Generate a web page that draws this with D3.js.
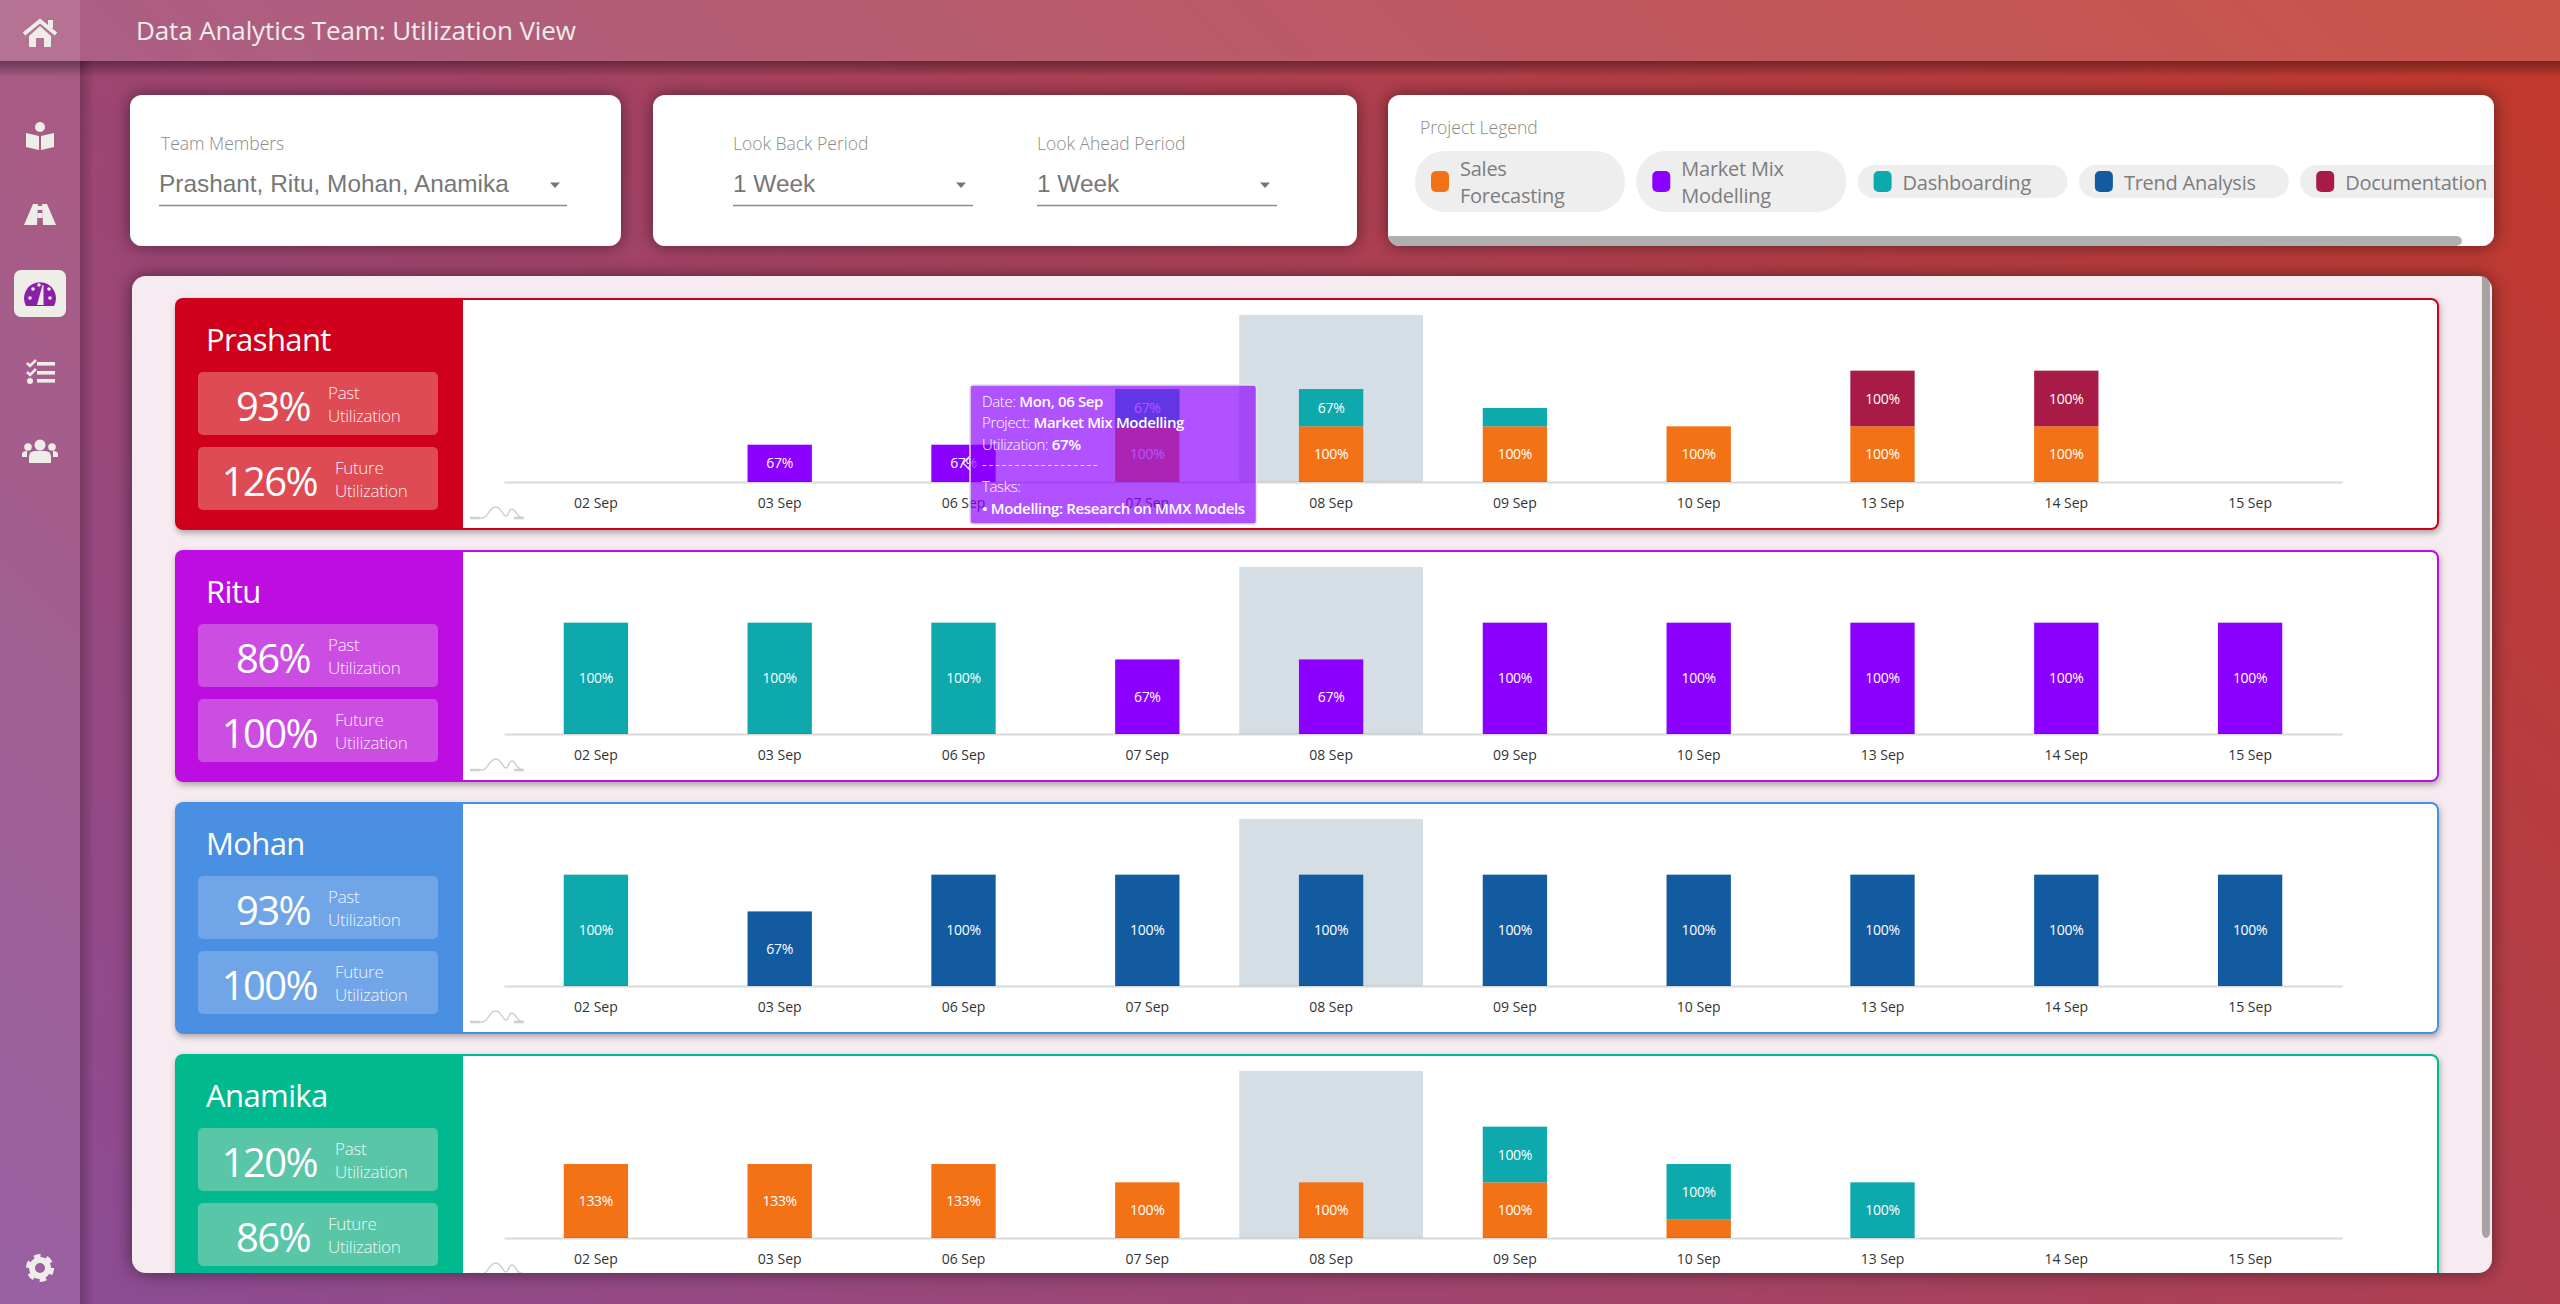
<!DOCTYPE html>
<html>
<head>
<meta charset="utf-8">
<title>Data Analytics Team: Utilization View</title>
<script src="https://cdnjs.cloudflare.com/ajax/libs/d3/7.8.5/d3.min.js"></script>
<style>
html, body { margin: 0; padding: 0; overflow: hidden; background: #a0457f; }
svg { display: block; font-family: "Open Sans", "Noto Sans", sans-serif; }
</style>
</head>
<body>
<svg id="page" width="2560" height="1304"></svg>
<script>
var dates = ["02 Sep", "03 Sep", "06 Sep", "07 Sep", "08 Sep", "09 Sep", "10 Sep", "13 Sep", "14 Sep", "15 Sep"];
var today = "08 Sep";
var projectKeys = ["sales", "market", "dashboard", "trend", "documentation"];
var projectNames = [["Sales", "Forecasting"], ["Market Mix", "Modelling"], ["Dashboarding"], ["Trend Analysis"], ["Documentation"]];
var members = ["Prashant", "Ritu", "Mohan", "Anamika"];
var pastUtil = ["93%", "86%", "93%", "120%"];
var futureUtil = ["126%", "100%", "100%", "86%"];

// one array per project, one value per date
var prashantSales = [0, 0, 0, 100, 100, 100, 100, 100, 100, 0];
var prashantMarket = [0, 67, 67, 0, 0, 0, 0, 0, 0, 0];
var prashantDash = [0, 0, 0, 67, 67, 33, 0, 0, 0, 0];
var prashantTrend = [0, 0, 0, 0, 0, 0, 0, 0, 0, 0];
var prashantDoc = [0, 0, 0, 0, 0, 0, 0, 100, 100, 0];

var rituSales = [0, 0, 0, 0, 0, 0, 0, 0, 0, 0];
var rituMarket = [0, 0, 0, 67, 67, 100, 100, 100, 100, 100];
var rituDash = [100, 100, 100, 0, 0, 0, 0, 0, 0, 0];
var rituTrend = [0, 0, 0, 0, 0, 0, 0, 0, 0, 0];
var rituDoc = [0, 0, 0, 0, 0, 0, 0, 0, 0, 0];

var mohanSales = [0, 0, 0, 0, 0, 0, 0, 0, 0, 0];
var mohanMarket = [0, 0, 0, 0, 0, 0, 0, 0, 0, 0];
var mohanDash = [100, 0, 0, 0, 0, 0, 0, 0, 0, 0];
var mohanTrend = [0, 67, 100, 100, 100, 100, 100, 100, 100, 100];
var mohanDoc = [0, 0, 0, 0, 0, 0, 0, 0, 0, 0];

var anamikaSales = [133, 133, 133, 100, 100, 100, 33, 0, 0, 0];
var anamikaMarket = [0, 0, 0, 0, 0, 0, 0, 0, 0, 0];
var anamikaDash = [0, 0, 0, 0, 0, 100, 100, 100, 0, 0];
var anamikaTrend = [0, 0, 0, 0, 0, 0, 0, 0, 0, 0];
var anamikaDoc = [0, 0, 0, 0, 0, 0, 0, 0, 0, 0];

var utilByMember = [
    [prashantSales, prashantMarket, prashantDash, prashantTrend, prashantDoc],
    [rituSales, rituMarket, rituDash, rituTrend, rituDoc],
    [mohanSales, mohanMarket, mohanDash, mohanTrend, mohanDoc],
    [anamikaSales, anamikaMarket, anamikaDash, anamikaTrend, anamikaDoc]
];

var projectColors = ["#f37216", "#8b00ff", "#0da9ac", "#135ba1", "#a91b47"];
var memberColors = ["#d0021b", "#bd10e0", "#4a90e2", "#00b98e"];
var statBoxColors = ["#de4b54", "#cc4de2", "#70a5e7", "#5ac6a8"];

var svg = d3.select("#page");
var defs = svg.append("defs");

// page background runs corner to corner at 45deg
var grad = defs.append("linearGradient")
    .attr("id", "bg")
    .attr("gradientUnits", "userSpaceOnUse")
    .attr("x1", 0).attr("y1", 1304)
    .attr("x2", 1932).attr("y2", -628);
grad.append("stop").attr("offset", "0%").attr("stop-color", "#8b4c96");
grad.append("stop").attr("offset", "100%").attr("stop-color", "#c3382a");

var shadow = defs.append("filter").attr("id", "shadow")
    .attr("x", "-10%").attr("y", "-30%").attr("width", "120%").attr("height", "160%");
shadow.append("feDropShadow").attr("dx", 0).attr("dy", 0)
    .attr("stdDeviation", 9).attr("flood-color", "#000").attr("flood-opacity", 0.5);

var smallShadow = defs.append("filter").attr("id", "smallShadow")
    .attr("x", "-5%").attr("y", "-10%").attr("width", "110%").attr("height", "120%");
smallShadow.append("feDropShadow").attr("dx", 1).attr("dy", 3)
    .attr("stdDeviation", 3).attr("flood-color", "#000").attr("flood-opacity", 0.3);

defs.append("clipPath").attr("id", "panelClip").append("rect")
    .attr("x", 132).attr("y", 276).attr("width", 2360).attr("height", 997).attr("rx", 14);
defs.append("clipPath").attr("id", "legendClip").append("rect")
    .attr("x", 1388).attr("y", 95).attr("width", 1106).attr("height", 151).attr("rx", 12);

svg.append("rect").attr("width", 2560).attr("height", 1304).attr("fill", "url(#bg)");

// sidebar and header
svg.append("rect").attr("x", 0).attr("y", 0).attr("width", 80).attr("height", 1304)
    .attr("fill", "#fff").attr("fill-opacity", 0.12);
var sideEdge = defs.append("linearGradient").attr("id", "sideEdge");
sideEdge.append("stop").attr("offset", "0%").attr("stop-color", "#000").attr("stop-opacity", 0.22);
sideEdge.append("stop").attr("offset", "100%").attr("stop-color", "#000").attr("stop-opacity", 0);
svg.append("rect").attr("x", 80).attr("y", 61).attr("width", 14).attr("height", 1243).attr("fill", "url(#sideEdge)");

var topEdge = defs.append("linearGradient").attr("id", "topEdge").attr("x2", 0).attr("y2", 1);
topEdge.append("stop").attr("offset", "0%").attr("stop-color", "#000").attr("stop-opacity", 0.38);
topEdge.append("stop").attr("offset", "100%").attr("stop-color", "#000").attr("stop-opacity", 0);
svg.append("rect").attr("x", 0).attr("y", 61).attr("width", 2560).attr("height", 16).attr("fill", "url(#topEdge)");

svg.append("rect").attr("x", 0).attr("y", 0).attr("width", 2560).attr("height", 61)
    .attr("fill", "#fff").attr("fill-opacity", 0.14);

svg.append("text")
    .attr("x", 136).attr("y", 40)
    .attr("fill", "#f1ecec")
    .style("font-size", "26px")
    .style("letter-spacing", "-0.12px")
    .text("Data Analytics Team: Utilization View");

// sidebar icons
var iconColor = "#eeede8";

var home = svg.append("g").attr("transform", "translate(40,33)");
home.append("path").attr("d", "M-16,1 L0,-12 L16,1").attr("fill", "none").attr("stroke", iconColor).attr("stroke-width", 4);
home.append("path").attr("d", "M-11,3 L0,-7 L11,3 V14 H4 V5 H-4 V14 H-11 Z").attr("fill", iconColor);
home.append("rect").attr("x", 8).attr("y", -13).attr("width", 5).attr("height", 8).attr("fill", iconColor);

var book = svg.append("g").attr("transform", "translate(40,136)");
book.append("circle").attr("cy", -9).attr("r", 5).attr("fill", iconColor);
book.append("path").attr("d", "M-14,-3 L-1,0 V14 L-14,11 Z M14,-3 L1,0 V14 L14,11 Z").attr("fill", iconColor);

var road = svg.append("g").attr("transform", "translate(40,215)");
road.append("path").attr("d", "M-16,10 L-7,-11 L-2,-11 L-3,10 Z M16,10 L7,-11 L2,-11 L3,10 Z").attr("fill", iconColor);
road.append("path").attr("d", "M-2.4,-9 H2.4 V-5 H-2.4 Z M-2.7,-2 H2.7 V3 H-2.7 Z").attr("fill", iconColor);

svg.append("rect").attr("x", 14).attr("y", 270).attr("width", 52).attr("height", 47).attr("rx", 7).attr("fill", iconColor);
var gauge = svg.append("g").attr("transform", "translate(40,294)");
gauge.append("path").attr("d", "M-14,12 A16,16 0 1 1 14,12 Z").attr("fill", "#8a1fa8");
gauge.append("path").attr("d", "M-3,11 L2.5,-9 L3.5,-9 L3.5,11 Z").attr("fill", iconColor);
[[-10, 4], [-7, -5], [-1, -9], [10, 4], [9, -5]].forEach(function(p) {
    gauge.append("circle").attr("cx", p[0]).attr("cy", p[1]).attr("r", 1.8).attr("fill", iconColor);
});

var tasks = svg.append("g").attr("transform", "translate(40,372)");
[-9, 0].forEach(function(y) {
    tasks.append("path").attr("d", "M-13," + (y) + " l3,3 l6,-6").attr("fill", "none").attr("stroke", iconColor).attr("stroke-width", 2.6);
});
tasks.append("circle").attr("cx", -10).attr("cy", 9).attr("r", 3).attr("fill", iconColor);
[-8, 1, 9].forEach(function(y) {
    tasks.append("rect").attr("x", -3).attr("y", y - 2).attr("width", 18).attr("height", 3.6).attr("fill", iconColor);
});

var users = svg.append("g").attr("transform", "translate(40,451)");
users.append("circle").attr("cy", -6).attr("r", 5.5).attr("fill", iconColor);
users.append("path").attr("d", "M-11,12 V6 Q-11,0 -5,0 H5 Q11,0 11,6 V12 Z").attr("fill", iconColor);
[-1, 1].forEach(function(s) {
    users.append("circle").attr("cx", s * 12).attr("cy", -4).attr("r", 3.8).attr("fill", iconColor);
    users.append("path").attr("d", "M" + (s * 18) + ",6 V3 Q" + (s * 18) + ",-0 " + (s * 13) + ",0 L" + (s * 13) + ",6 Z").attr("fill", iconColor);
});

var gear = svg.append("g").attr("transform", "translate(40,1268)");
gear.append("circle").attr("r", 8).attr("fill", "none").attr("stroke", iconColor).attr("stroke-width", 6);
gear.append("circle").attr("r", 12).attr("fill", "none").attr("stroke", iconColor).attr("stroke-width", 4)
    .attr("stroke-dasharray", "6.5 6.06");

// top filter cards
function card(x, y, w, h) {
    svg.append("rect")
        .attr("x", x).attr("y", y).attr("width", w).attr("height", h)
        .attr("rx", 12).attr("fill", "#fff").attr("filter", "url(#shadow)");
}

function dropdown(label, labelX, value, x, w) {
    svg.append("text")
        .attr("x", labelX).attr("y", 150)
        .attr("fill", "#8a8a8a")
        .style("font-size", "17.5px").style("font-weight", 300)
        .text(label);
    svg.append("text")
        .attr("x", x).attr("y", 192)
        .attr("fill", "#777")
        .style("font-family", "'Liberation Sans', Arial, sans-serif")
        .style("font-size", "24.4px")
        .text(value);
    svg.append("line")
        .attr("x1", x).attr("x2", x + w)
        .attr("y1", 205.5).attr("y2", 205.5)
        .attr("stroke", "#8c8c8c").attr("stroke-width", 1.5);
    svg.append("path")
        .attr("d", "M" + (x + w - 17) + ",182.5 h10 l-5,5.5 Z")
        .attr("fill", "#757575");
}

card(130, 95, 491, 151);
dropdown("Team Members", 161, "Prashant, Ritu, Mohan, Anamika", 159, 408);
card(653, 95, 704, 151);
dropdown("Look Back Period", 733, "1 Week", 733, 240);
dropdown("Look Ahead Period", 1037, "1 Week", 1037, 240);
card(1388, 95, 1106, 151);

svg.append("text")
    .attr("x", 1420).attr("y", 134)
    .attr("fill", "#8a8a8a")
    .style("font-size", "17.5px").style("font-weight", 300)
    .text("Project Legend");

var legendG = svg.append("g").attr("clip-path", "url(#legendClip)");
var chip = legendG.selectAll(".chip")
    .data(projectKeys)
    .enter()
    .append("g")
    .attr("class", "chip")
    .attr("transform", (d, i) => "translate(" + (1415 + i * 221.3) + ",0)");
chip.append("rect")
    .attr("y", (d, i) => projectNames[i].length > 1 ? 151 : 165)
    .attr("width", 210)
    .attr("height", (d, i) => projectNames[i].length > 1 ? 61 : 33)
    .attr("rx", (d, i) => projectNames[i].length > 1 ? 30 : 16.5)
    .attr("fill", "#eeeeee");
chip.append("rect")
    .attr("x", 16).attr("y", 171)
    .attr("width", 18).attr("height", 21)
    .attr("rx", 5)
    .attr("fill", (d, i) => projectColors[i]);
chip.each(function(d, i) {
    var lines = projectNames[i];
    d3.select(this).selectAll("text")
        .data(lines)
        .enter()
        .append("text")
        .attr("x", 45)
        .attr("y", (t, j) => lines.length > 1 ? 176 + j * 27 : 190)
        .attr("fill", "#7d7d7d")
        .style("font-size", "20px")
        .style("letter-spacing", "-0.25px")
        .text(t => t);
});
svg.append("path")
    .attr("d", "M1388,236 H2456 a6,5 0 0 1 6,5 a6,5 0 0 1 -6,5 H1400 a12,12 0 0 1 -12,-10 Z")
    .attr("fill", "#b0b0b0");

// main panel with one row per team member
svg.append("rect")
    .attr("x", 132).attr("y", 276).attr("width", 2360).attr("height", 997)
    .attr("rx", 14).attr("fill", "#f5ebf0").attr("filter", "url(#shadow)");

var panel = svg.append("g").attr("clip-path", "url(#panelClip)");

var x = d3.scaleBand()
    .domain(dates)
    .range([504, 2342])
    .paddingInner(0.65)
    .paddingOuter(0.325);

// the shaded band for today fills the whole step, not just the bar
var step = x.step();

var rowTops = d3.scaleLinear().domain([0, 3]).range([298, 1054]);

members.forEach(function(name, m) {
    var rowColor = memberColors[m];
    var g = panel.append("g").attr("transform", "translate(0," + rowTops(m) + ")");

    g.append("rect")
        .attr("x", 175).attr("y", 0).attr("width", 2264).attr("height", 232)
        .attr("rx", 8).attr("fill", rowColor).attr("filter", "url(#smallShadow)");
    g.append("path")
        .attr("d", "M463,2 H2431 a6,6 0 0 1 6,6 V224 a6,6 0 0 1 -6,6 H463 Z")
        .attr("fill", "#fff");

    g.append("text")
        .attr("x", 206).attr("y", 53)
        .attr("fill", "#fff")
        .style("font-size", "31px")
        .style("letter-spacing", "-0.6px")
        .text(name);

    [[pastUtil[m], "Past", 74], [futureUtil[m], "Future", 149]].forEach(function(s) {
        var box = g.append("g").attr("transform", "translate(198," + s[2] + ")");
        box.append("rect")
            .attr("width", 240).attr("height", 63).attr("rx", 5)
            .attr("fill", statBoxColors[m]);
        var wide = s[0].length > 3;
        box.append("text")
            .attr("x", wide ? 119 : 112).attr("y", 48.5)
            .attr("text-anchor", "end")
            .attr("fill", "#fff")
            .style("font-size", "40px")
            .style("letter-spacing", "-1.6px")
            .text(s[0]);
        box.append("text")
            .attr("x", wide ? 137 : 130).attr("y", 27)
            .attr("fill", "#fff").attr("fill-opacity", 0.92)
            .style("font-size", "17px").style("font-weight", 300)
            .style("letter-spacing", "-0.3px")
            .text(s[1]);
        box.append("text")
            .attr("x", wide ? 137 : 130).attr("y", 50)
            .attr("fill", "#fff").attr("fill-opacity", 0.92)
            .style("font-size", "17px").style("font-weight", 300)
            .style("letter-spacing", "-0.3px")
            .text("Utilization");
    });

    var table = dates.map(function(d, i) {
        var row = { date: d };
        projectKeys.forEach(function(k, p) { row[k] = utilByMember[m][p][i]; });
        return row;
    });
    var layers = d3.stack().keys(projectKeys)(table);

    // each row scales to its own tallest stack plus half again as headroom
    var top = d3.max(layers, layer => d3.max(layer, d => d[1]));
    var y = d3.scaleLinear().domain([0, top * 1.5]).range([184, 17]);

    g.append("rect")
        .attr("x", x(today) - step * 0.325)
        .attr("y", y(top * 1.5))
        .attr("width", step)
        .attr("height", y(0) - y(top * 1.5))
        .attr("fill", "#d6dee5");

    layers.forEach(function(layer, p) {
        var bars = layer.filter(d => d[1] > d[0]);
        g.selectAll(".bar" + p)
            .data(bars)
            .enter()
            .append("rect")
            .attr("class", "bar" + p)
            .attr("x", d => x(d.data.date))
            .attr("y", d => y(d[1]))
            .attr("width", x.bandwidth())
            .attr("height", d => y(d[0]) - y(d[1]))
            .attr("fill", projectColors[p]);
        g.selectAll(".label" + p)
            .data(bars.filter(d => d[1] - d[0] >= 50))
            .enter()
            .append("text")
            .attr("class", "label" + p)
            .attr("x", d => x(d.data.date) + x.bandwidth() / 2)
            .attr("y", d => (y(d[0]) + y(d[1])) / 2 + 5)
            .attr("text-anchor", "middle")
            .attr("fill", "#fff")
            .style("font-size", "14px")
            .style("letter-spacing", "-0.3px")
            .text(d => (d[1] - d[0]) + "%");
    });

    var ax = g.append("g")
        .attr("transform", "translate(0," + y(0) + ")")
        .call(d3.axisBottom(x).tickSize(0).tickPadding(16));
    ax.select(".domain")
        .attr("stroke", "#000").attr("stroke-opacity", 0.15).attr("stroke-width", 2);
    ax.selectAll("text")
        .attr("fill", "#333")
        .style("font-family", "'Open Sans', sans-serif")
        .style("font-size", "14px");

    // little range selector mark in the chart corner
    var mark = g.append("g").attr("transform", "translate(470,209)")
        .attr("fill", "none").attr("stroke", "#cfcfcf");
    mark.append("path").attr("d", "M0,11 H12 C18,11 19,0 26,0 C31,0 33,9 36,9 C39,9 38,2 42,2 C46,2 46,11 54,11")
        .attr("stroke-width", 1.5);
    mark.append("path").attr("d", "M0,11 H10 M44,11 H54").attr("stroke-width", 2.5);
});

// tooltip that is open on the 06 Sep bar
var tip = panel.append("g").attr("transform", "translate(970,385)");
tip.append("path")
    .attr("d", "M0,71 L-7,78 L0,85")
    .attr("fill", "none").attr("stroke", "#fff").attr("stroke-width", 1.2);
tip.append("rect")
    .attr("width", 286.5).attr("height", 139).attr("rx", 3)
    .attr("fill", "#8a00ff").attr("fill-opacity", 0.68)
    .attr("stroke", "#e2e2e2").attr("stroke-width", 1.5);

var tipLines = [
    [["Date: ", 300], ["Mon, 06 Sep", 600]],
    [["Project: ", 300], ["Market Mix Modelling", 600]],
    [["Utilization: ", 300], ["67%", 600]],
    [["------------------", 300]],
    [["Tasks:", 300]],
    [["• ", 600], ["Modelling: Research on MMX Models", 600]]
];
var tipRows = [22, 43, 65, 84, 107, 129];
tipLines.forEach(function(parts, i) {
    var t = tip.append("text")
        .attr("x", 12).attr("y", tipRows[i])
        .attr("fill", "#fff")
        .style("font-size", "15px")
        .style("letter-spacing", i == 3 ? "1.7px" : "-0.35px");
    parts.forEach(function(p) {
        t.append("tspan").style("font-weight", p[1]).text(p[0]);
    });
});

// panel scrollbar
svg.append("path")
    .attr("d", "M2482,276 H2484 a8,10 0 0 1 6,10 V1232 a4,6 0 0 1 -8,0 Z")
    .attr("fill", "#8f8a8a").attr("fill-opacity", 0.75);
</script>
</body>
</html>
